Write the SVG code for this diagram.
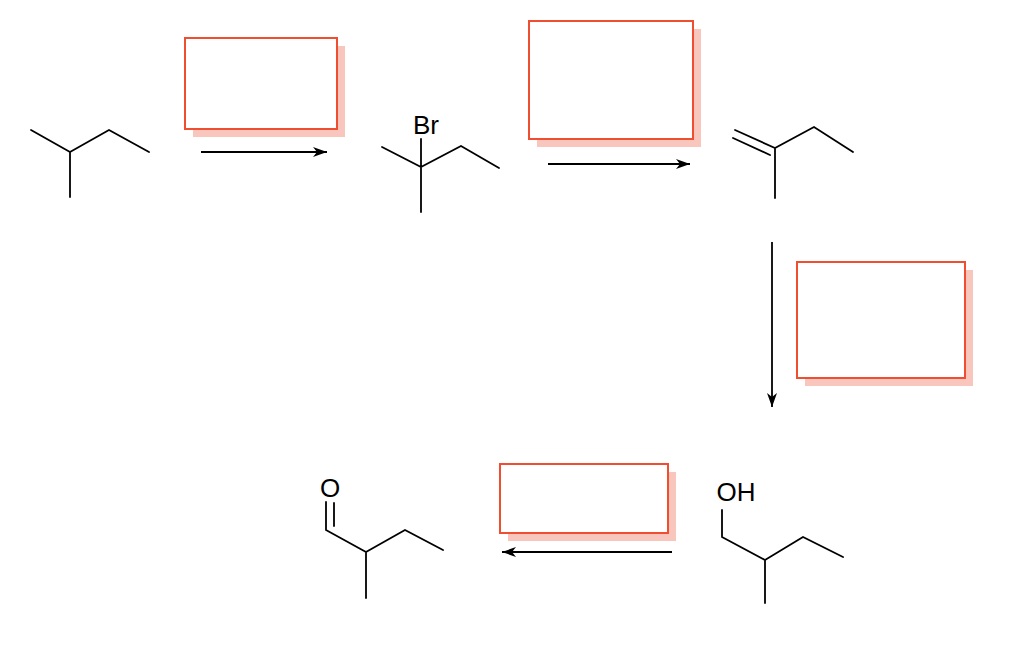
<svg xmlns="http://www.w3.org/2000/svg" width="1024" height="645" viewBox="0 0 1024 645">
<style>
.b{fill:none;stroke:#000;stroke-width:1.8;stroke-linecap:round}
.box{fill:#fff;stroke:#f04e30;stroke-width:2}
.sh{fill:#f9c6be}
.a{stroke:#000;stroke-width:1.8;marker-end:url(#ah)}
text{font-family:"Liberation Sans",Arial,sans-serif;font-size:26px}
</style>
<defs><marker id="ah" viewBox="0 0 14 10" refX="14" refY="5" markerWidth="14" markerHeight="10" markerUnits="userSpaceOnUse" orient="auto"><path d="M0,0L14,5L0,10L4,5z"/></marker></defs>
<rect width="1024" height="645" fill="#fff"/>
<g id="boxes">
<rect class="sh" x="193" y="46" width="152" height="91"/><rect class="box" x="185" y="38" width="152" height="91"/>
<rect class="sh" x="537" y="29" width="164" height="118"/><rect class="box" x="529" y="21" width="164" height="118"/>
<rect class="sh" x="805" y="270" width="168" height="116"/><rect class="box" x="797" y="262" width="168" height="116"/>
<rect class="sh" x="508" y="472" width="168" height="69"/><rect class="box" x="500" y="464" width="168" height="69"/>
</g>
<g id="connectors">
<line class="a" x1="201" y1="152" x2="327" y2="152"/>
<line class="a" x1="548" y1="164" x2="690" y2="164"/>
<line class="a" x1="772" y1="242" x2="772" y2="407"/>
<line class="a" x1="672" y1="552" x2="502" y2="552"/>
</g>
<g id="m1"><path class="b" d="M31,130L70,152L109,130L149,152M70,152V197"/></g>
<g id="m2"><text x="426" y="134" text-anchor="middle">Br</text><path class="b" d="M382,147L421,167L461,146L499,168M421,139V212"/></g>
<g id="m3"><path class="b" d="M735,130L775,148L814,127L853,152M775,148V198M733,138L770,155"/></g>
<g id="m4"><text x="736" y="501" text-anchor="middle">OH</text><path class="b" d="M722,510V537L765,560L803,537L843,557M765,560V603"/></g>
<g id="m5"><text x="330" y="497" text-anchor="middle">O</text><path class="b" d="M326,502V530L366,552L405,530L443,550M366,552V598M334,503V526"/></g>
</svg>
